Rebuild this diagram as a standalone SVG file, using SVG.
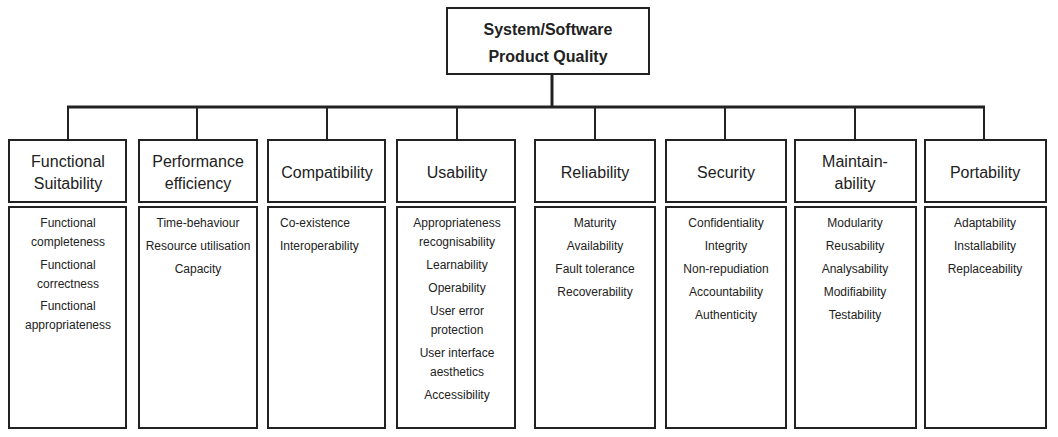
<svg xmlns="http://www.w3.org/2000/svg" width="1058" height="437" viewBox="0 0 1058 437">
<style>
.b{fill:#fff;stroke:#222;stroke-width:2}
.h{font-family:"Liberation Sans",Arial,sans-serif;font-size:16px;fill:#222;text-anchor:middle}
.t{font-family:"Liberation Sans",Arial,sans-serif;font-size:12px;fill:#222;text-anchor:middle}
.l{text-anchor:start}
.c{stroke:#222;fill:none}
</style>
<rect width="1058" height="437" fill="#fff"/>
<g id="root"><rect class="b" x="447" y="8" width="202" height="66"/>
<text class="h" x="548" y="35" font-weight="bold" font-size="17">System/Software</text>
<text class="h" x="548" y="62" font-weight="bold" font-size="17">Product Quality</text></g>
<g id="connectors">
<line class="c" x1="552" y1="74" x2="552" y2="107" stroke-width="3"/>
<line class="c" x1="67" y1="107" x2="985" y2="107" stroke-width="3"/>
<path class="c" stroke-width="2" d="M68 107V140M197 107V140M327 107V140M457 107V140M595 107V140M725 107V140M855 107V140M984 107V140"/>
</g>
<g id="n1"><rect class="b" x="9" y="140" width="117" height="62"/><text class="h" x="68" y="167">Functional</text><text class="h" x="68" y="189">Suitability</text>
<rect class="b" x="9" y="207" width="117" height="221"/>
<text class="t" x="68" y="227">Functional</text><text class="t" x="68" y="246">completeness</text><text class="t" x="68" y="269">Functional</text><text class="t" x="68" y="288">correctness</text><text class="t" x="68" y="310">Functional</text><text class="t" x="68" y="329">appropriateness</text></g>
<g id="n2"><rect class="b" x="139" y="140" width="118" height="62"/><text class="h" x="198" y="167">Performance</text><text class="h" x="198" y="189">efficiency</text>
<rect class="b" x="139" y="207" width="118" height="221"/>
<text class="t" x="198" y="227">Time-behaviour</text><text class="t" x="198" y="250">Resource utilisation</text><text class="t" x="198" y="273">Capacity</text></g>
<g id="n3"><rect class="b" x="268" y="140" width="117" height="62"/><text class="h" x="327" y="178">Compatibility</text>
<rect class="b" x="268" y="207" width="117" height="221"/>
<text class="t l" x="280" y="227">Co-existence</text><text class="t l" x="280" y="250">Interoperability</text></g>
<g id="n4"><rect class="b" x="397" y="140" width="118" height="62"/><text class="h" x="457" y="178">Usability</text>
<rect class="b" x="397" y="207" width="118" height="221"/>
<text class="t" x="457" y="227">Appropriateness</text><text class="t" x="457" y="246">recognisability</text><text class="t" x="457" y="269">Learnability</text><text class="t" x="457" y="292">Operability</text><text class="t" x="457" y="315">User error</text><text class="t" x="457" y="334">protection</text><text class="t" x="457" y="357">User interface</text><text class="t" x="457" y="376">aesthetics</text><text class="t" x="457" y="399">Accessibility</text></g>
<g id="n5"><rect class="b" x="535" y="140" width="120" height="62"/><text class="h" x="595" y="178">Reliability</text>
<rect class="b" x="535" y="207" width="120" height="221"/>
<text class="t" x="595" y="227">Maturity</text><text class="t" x="595" y="250">Availability</text><text class="t" x="595" y="273">Fault tolerance</text><text class="t" x="595" y="296">Recoverability</text></g>
<g id="n6"><rect class="b" x="666" y="140" width="120" height="62"/><text class="h" x="726" y="178">Security</text>
<rect class="b" x="666" y="207" width="120" height="221"/>
<text class="t" x="726" y="227">Confidentiality</text><text class="t" x="726" y="250">Integrity</text><text class="t" x="726" y="273">Non-repudiation</text><text class="t" x="726" y="296">Accountability</text><text class="t" x="726" y="319">Authenticity</text></g>
<g id="n7"><rect class="b" x="795" y="140" width="121" height="62"/><text class="h" x="855" y="167">Maintain-</text><text class="h" x="855" y="189">ability</text>
<rect class="b" x="795" y="207" width="121" height="221"/>
<text class="t" x="855" y="227">Modularity</text><text class="t" x="855" y="250">Reusability</text><text class="t" x="855" y="273">Analysability</text><text class="t" x="855" y="296">Modifiability</text><text class="t" x="855" y="319">Testability</text></g>
<g id="n8"><rect class="b" x="925" y="140" width="121" height="62"/><text class="h" x="985" y="178">Portability</text>
<rect class="b" x="925" y="207" width="121" height="221"/>
<text class="t" x="985" y="227">Adaptability</text><text class="t" x="985" y="250">Installability</text><text class="t" x="985" y="273">Replaceability</text></g>
</svg>
